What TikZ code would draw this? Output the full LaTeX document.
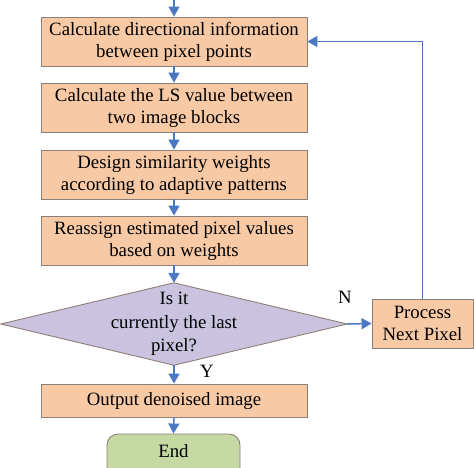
\documentclass[tikz,border=0pt]{standalone}
\usepackage{fontspec}
\setmainfont{Liberation Serif}
\usetikzlibrary{arrows.meta}
\definecolor{boxor}{HTML}{F8C9A5}
\definecolor{boxbd}{HTML}{8C7F78}
\definecolor{dialav}{HTML}{CAC3DF}
\definecolor{endgr}{HTML}{C6D9A2}
\definecolor{arrbl}{HTML}{4A78C2}
\begin{document}
\begin{tikzpicture}[x=1pt,y=-1pt,
  procbox/.style={draw=boxbd,line width=0.9pt,fill=boxor,minimum width=266pt,minimum height=49pt,inner sep=0pt,align=center,font=\fontsize{18.8}{22}\selectfont},
  flow/.style={draw=arrbl,line width=1.5pt,-{Triangle[width=11pt,length=10pt]}},
  lbl/.style={font=\fontsize{18.8}{22}\selectfont,inner sep=0pt}]
\useasboundingbox (0,0) rectangle (474,467);
\clip (0,0) rectangle (474,467);
\coordinate (top) at (174,0);
\node[procbox] (b1) at (174,41.5) {Calculate directional information\\between pixel points};
\node[procbox] (b2) at (174,107.5) {Calculate the LS value between\\two image blocks};
\node[procbox] (b3) at (174,174.5) {Design similarity weights\\according to adaptive patterns};
\node[procbox] (b4) at (174,240.5) {Reassign estimated pixel values\\based on weights};
\node[minimum width=346pt,minimum height=82pt,inner sep=0pt] (dia) at (174,324) {};
\draw[draw=boxbd,line width=0.9pt,fill=dialav] (dia.north) -- (dia.east) -- (dia.south) -- (dia.west) -- cycle;
\node[lbl,align=center,font=\fontsize{18.8}{23.5}\selectfont] (diat) at (174,324) {Is it\\currently the last\\pixel?};
\node[procbox,minimum width=101pt] (proc) at (422.5,323.5) {Process\\Next Pixel};
\node[procbox,minimum height=33pt] (out) at (174,400.5) {Output denoised image};
\node[draw=boxbd,line width=0.9pt,fill=endgr,rounded corners=11pt,minimum width=133pt,minimum height=46pt,inner sep=0pt] (end) at (173.5,457) {};
\node[lbl] (endt) at (173.5,451) {End};
\draw[flow] (top) -- (b1.north);
\draw[flow] (b1) -- (b2);
\draw[flow] (b2) -- (b3);
\draw[flow] (b3) -- (b4);
\draw[flow] (b4.south) -- (dia.north);
\draw[flow] (dia.south) -- (out.north);
\draw[flow] (out.south) -- (end.north);
\draw[flow] (dia.east) -- (proc.west);
\draw[flow] (proc.north) |- (b1.east);
\node[lbl] (nl) at (345,297) {N};
\node[lbl] (yl) at (207,371) {Y};
\end{tikzpicture}
\end{document}
